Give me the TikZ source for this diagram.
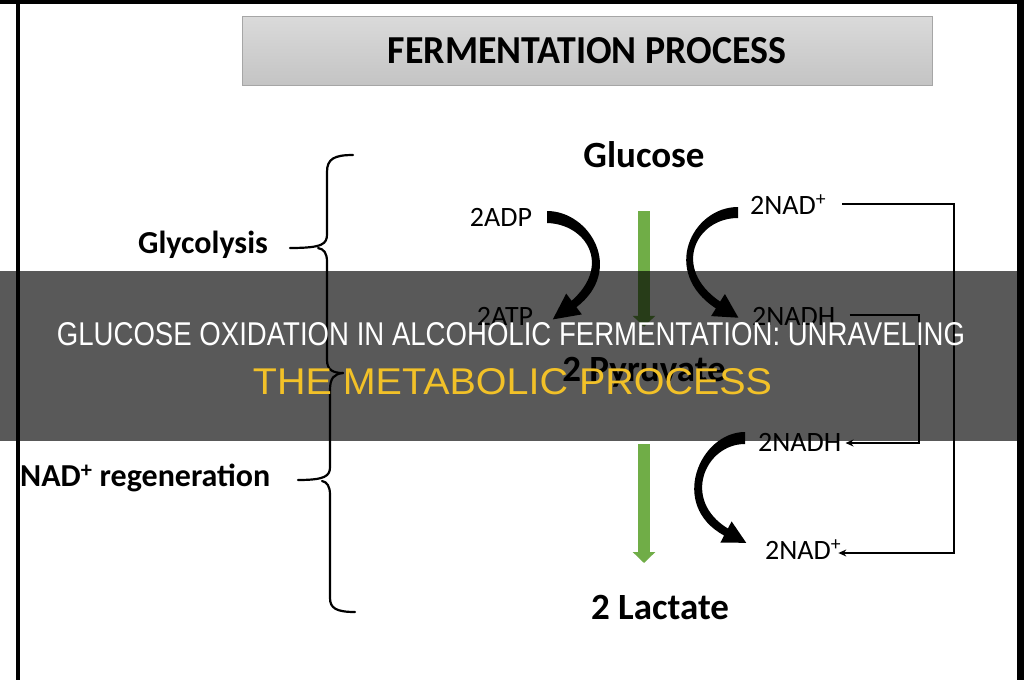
\documentclass[tikz,border=0pt]{standalone}
\usepackage{fontspec}
\usepackage{graphicx}
\setmainfont{Carlito}
\newfontfamily\bannerfont{Liberation Sans}
\usetikzlibrary{arrows.meta}
\definecolor{leaf}{RGB}{112,173,71}
\definecolor{gold}{RGB}{242,193,40}
\begin{document}
\begin{tikzpicture}[x=1pt,y=-1pt,
  big/.style={font=\fontsize{37}{40}\selectfont\bfseries, inner sep=0pt},
  side/.style={font=\fontsize{32}{36}\selectfont\bfseries, inner sep=0pt},
  mol/.style={font=\fontsize{28}{32}\selectfont, inner sep=0pt},
  conn/.style={line width=1.8pt, -{Stealth[length=8pt,width=7pt]}},
  bracestroke/.style={line width=2.2pt, line cap=round},
  greenarrow/.style={draw=leaf, line width=12pt, -{Triangle[length=11pt,width=22pt]}},
  crescent/.style={fill=black},
]
\useasboundingbox (0,0) rectangle (1024,680);
\fill[white] (0,0) rectangle (1024,680);
\fill[black] (0,0) rectangle (1024,4);
\fill[black] (16,0) rectangle (20,680);
\fill[black] (1017,0) rectangle (1024,680);

% title box
\shade[top color={rgb,255:red,218;green,218;blue,218}, bottom color={rgb,255:red,196;green,196;blue,196}] (242,16) rectangle (932,85);
\draw[gray!70, line width=0.8pt] (242,16) rectangle (932,85);
\node[inner sep=0pt] (title) at (587,51) {\resizebox{398pt}{26pt}{\bfseries FERMENTATION PROCESS}};

% labels
\node[big] (glucose) at (644,155) {Glucose};
\node[big] (pyruvate) at (644,372) {2 Pyruvate};
\node[big] (lactate) at (660,607) {2 Lactate};
\node[side, anchor=east] (glyc) at (268,245) {Glycolysis};
\node[side, anchor=west] (regen) at (20,478) {NAD\textsuperscript{+} regeneration};
\node[mol] (adp) at (501,217) {2ADP};
\node[mol] (atp) at (505,316) {2ATP};
\node[mol, anchor=west] (nadtop) at (750,205) {2NAD\textsuperscript{+}};
\node[mol, anchor=west] (nadhtop) at (752,316) {2NADH};
\node[mol, anchor=west] (nadhlow) at (758,442) {2NADH};
\node[mol, anchor=west] (nadlow) at (765,550) {2NAD\textsuperscript{+}};

% braces
\draw[bracestroke] (353,155) .. controls (334,155) and (327,159) .. (327,172) -- (327,234) .. controls (327,244) and (323,248) .. (290,248);
\draw[bracestroke] (318,248) .. controls (324,249) and (327,253) .. (327,262) -- (327,360) .. controls (327,370) and (333,373) .. (343,373);
\draw[bracestroke] (343,373) .. controls (334,374) and (330,378) .. (330,390) -- (330,467) .. controls (330,476) and (325,480) .. (298,480);
\draw[bracestroke] (322,481) .. controls (327,482) and (330,486) .. (330,495) -- (330,598) .. controls (330,608) and (336,612) .. (355,612);

% green arrows
\draw[greenarrow, shorten <=43pt, shorten >=30pt] (glucose) -- (pyruvate);
\draw[greenarrow, shorten <=57pt, shorten >=44pt] (pyruvate) -- (pyruvate |- lactate);

% crescents
\fill[crescent] (547,211) .. controls (590,211) and (625,270) .. (576.4,307.2) -- (581.8,314.4) -- (552.8,319.4) -- (566.2,293.6) -- (571.6,300.8) .. controls (612,265) and (586,224) .. (547,223) -- cycle;
\fill[crescent] (738,207) .. controls (692,207) and (660,272) .. (715.9,308.4) -- (711.1,316.1) -- (738.4,317.7) -- (724.9,294.0) -- (720.1,301.6) .. controls (671,268) and (696,218) .. (738,218) -- cycle;
\fill[crescent] (745,432) .. controls (700,432) and (668,505) .. (724.1,535.5) -- (720.4,542.6) -- (746.2,542.8) -- (731.6,521.4) -- (727.9,528.5) .. controls (681,500) and (705,444) .. (745,444) -- cycle;

% recycling connectors
\coordinate (outerx) at (954,0);
\coordinate (innerx) at (919,0);
\coordinate (s1) at ([xshift=16pt,yshift=1pt]nadtop.east);
\coordinate (e1) at ([xshift=-3pt,yshift=-3pt]nadlow.east);
\coordinate (s2) at ([xshift=14pt,yshift=1pt]nadhtop.east);
\coordinate (e2) at ([xshift=4pt,yshift=-1pt]nadhlow.east);
\draw[conn] (s1) -- (outerx |- s1) -- (outerx |- e1) -- (e1);
\draw[conn] (s2) -- (innerx |- s2) -- (innerx |- e2) -- (e2);

% banner overlay
\fill[black, opacity=0.65] (0,271) rectangle (1024,441);
\node[text=white, inner sep=0pt] (bannerA) at (511,334) {\resizebox{908pt}{23pt}{\bannerfont GLUCOSE OXIDATION IN ALCOHOLIC FERMENTATION: UNRAVELING}};
\node[text=gold, inner sep=0pt] (bannerB) at (512.5,382) {\resizebox{519pt}{26pt}{\bannerfont THE METABOLIC PROCESS}};
\end{tikzpicture}
\end{document}
